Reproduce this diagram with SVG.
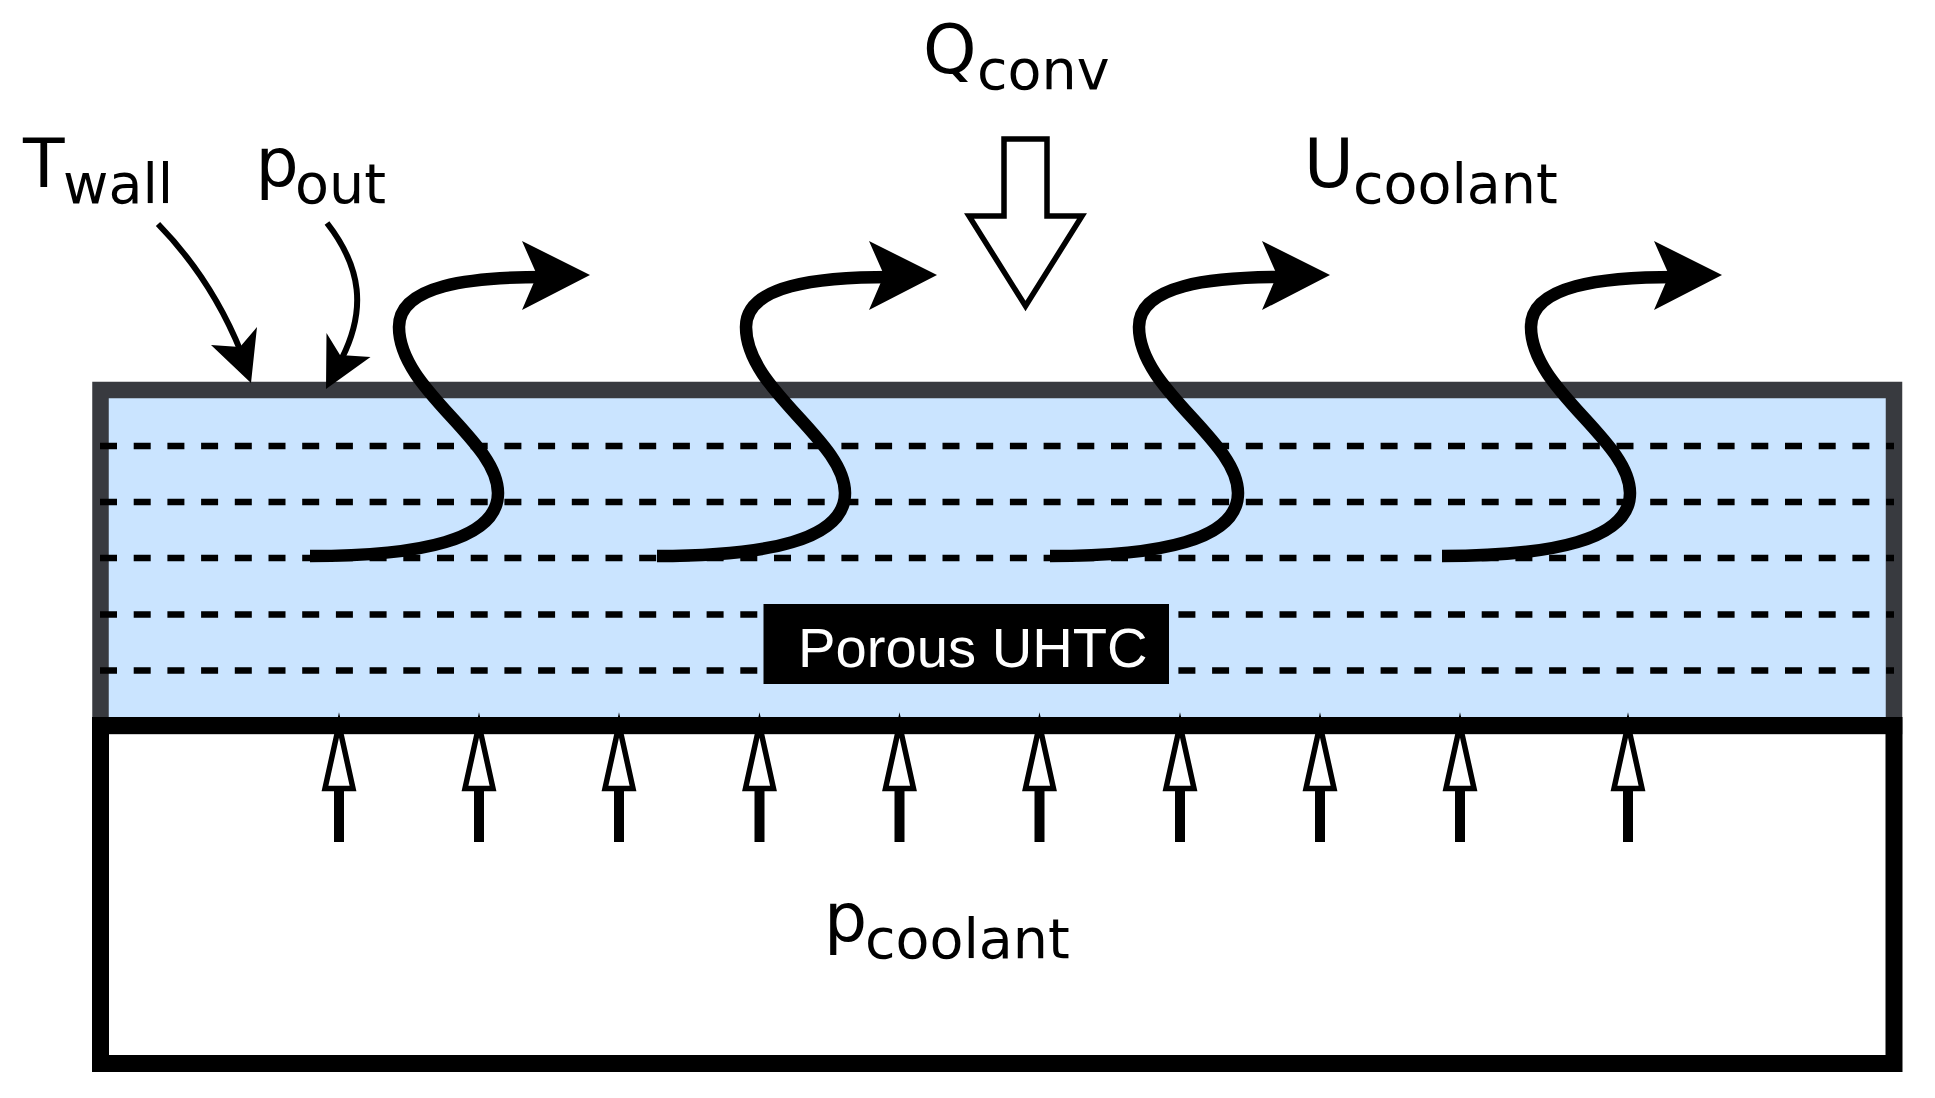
<svg xmlns="http://www.w3.org/2000/svg" width="1935" height="1098" viewBox="0 0 1935 1098">
<defs>
<style>
.lbl{font-family:"DejaVu Sans",Verdana,sans-serif;font-size:68px;fill:#000}
.sub{font-size:55.5px}
.dash{fill:none;stroke:#000;stroke-width:6.5;stroke-dasharray:17 16.7}
.flow{fill:none;stroke:#000;stroke-width:12.5}
.thin{fill:none;stroke:#000;stroke-width:6}
.small{fill:#fff;stroke:#000;stroke-width:5.5;stroke-miterlimit:10}
</style>
<g id="flow-arrow">
<path class="flow" d="M310,556 C420,556 498,540 498,493 C498,440 399,390 399,327 C399,285 470,277 545,277"/>
<polygon points="590,275 522,241 537,275 522,310" fill="#000"/>
</g>
<g id="jet-arrow">
<rect x="-5" y="788" width="10" height="54" fill="#000"/>
<polygon class="small" points="0,725 14,788.5 -14,788.5"/>
</g>
</defs>
<rect width="1935" height="1098" fill="#fff"/>
<g id="porous-layer">
<rect x="100.5" y="390" width="1793.5" height="336" fill="#cae4ff" stroke="#383a3f" stroke-width="16.5"/>
<path class="dash" d="M100,446H1894M100,502H1894M100,558H1894M100,614.5H1894M100,670.5H1894"/>
</g>
<g id="connectors">
<use href="#flow-arrow"/>
<use href="#flow-arrow" x="347"/>
<use href="#flow-arrow" x="740"/>
<use href="#flow-arrow" x="1132"/>
<path class="thin" d="M158,224 C195,262 222,305 241,352"/>
<polygon points="251,383 211,345 240,347 257,327" fill="#000"/>
<path class="thin" d="M327,223 C362,268 366,310 342,358"/>
<polygon points="326,389 326.5,333 340,355 370.5,357" fill="#000"/>
<path d="M1004,139H1047V216H1082L1025.5,306L969,216H1004Z" fill="#fff" stroke="#000" stroke-width="5.5" stroke-miterlimit="10"/>
<use href="#jet-arrow" x="339"/>
<use href="#jet-arrow" x="479"/>
<use href="#jet-arrow" x="619"/>
<use href="#jet-arrow" x="759.5"/>
<use href="#jet-arrow" x="899.5"/>
<use href="#jet-arrow" x="1039.5"/>
<use href="#jet-arrow" x="1180"/>
<use href="#jet-arrow" x="1320"/>
<use href="#jet-arrow" x="1460"/>
<use href="#jet-arrow" x="1628"/>
</g>
<g id="plenum">
<rect x="100.5" y="725.5" width="1793.5" height="338" fill="none" stroke="#000" stroke-width="17"/>
</g>
<g id="porous-label">
<rect x="763.5" y="604" width="405.5" height="80" fill="#000"/>
<text x="798" y="667" font-family="'Liberation Sans',Arial,sans-serif" font-size="56.2" fill="#fff">Porous UHTC</text>
</g>
<g id="t-wall"><text class="lbl" x="23" y="187">T<tspan class="sub" x="63" y="203">wall</tspan></text></g>
<g id="p-out"><text class="lbl" x="255.5" y="186">p<tspan class="sub" x="295" y="203">out</tspan></text></g>
<g id="q-conv"><text class="lbl" x="923" y="73">Q<tspan class="sub" x="977" y="89">conv</tspan></text></g>
<g id="u-coolant"><text class="lbl" x="1304" y="187">U<tspan class="sub" x="1353" y="203">coolant</tspan></text></g>
<g id="p-coolant"><text class="lbl" x="824" y="941">p<tspan class="sub" x="865" y="958">coolant</tspan></text></g>
</svg>
